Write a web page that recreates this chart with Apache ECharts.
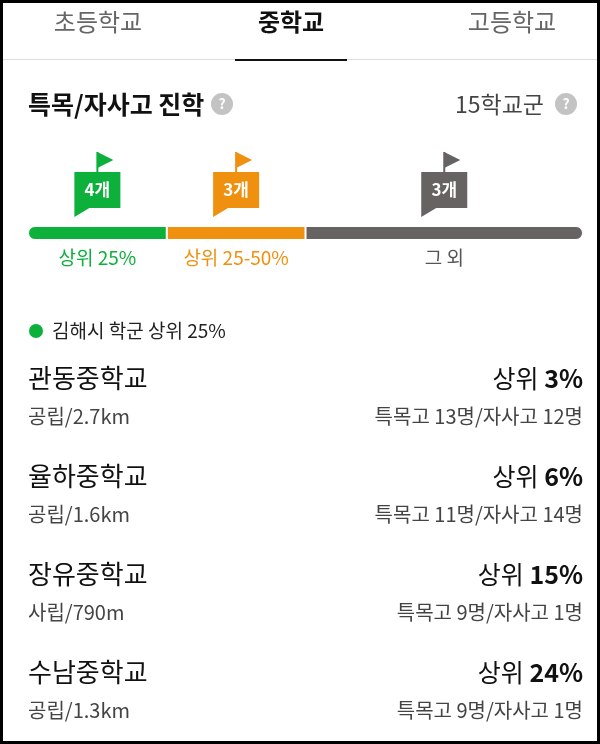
<!DOCTYPE html>
<html><head><meta charset="utf-8">
<script src="https://cdn.jsdelivr.net/npm/echarts@6/dist/echarts.min.js"></script>
<style>html,body{margin:0;padding:0;background:#fff}#c{width:600px;height:744px}</style>
</head><body><div id="c"></div>
<script>
var tabs = ['초등학교', '중학교', '고등학교'];
var segNames = ['상위 25%', '상위 25-50%', '그 외'];
var segValues = [25, 25, 50];
var segCounts = ['4개', '3개', '3개'];
var segColors = ['#0cb03a', '#f0900f', '#676363'];
var schools = ['관동중학교', '율하중학교', '장유중학교', '수남중학교'];
var schoolInfo = ['공립/2.7km', '공립/1.6km', '사립/790m', '공립/1.3km'];
var schoolRank = ['3%', '6%', '15%', '24%'];
var schoolStats = ['특목고 13명/자사고 12명', '특목고 11명/자사고 14명', '특목고 9명/자사고 1명', '특목고 9명/자사고 1명'];

var F = '"Noto Sans CJK KR", "Noto Sans", sans-serif';
var chart = echarts.init(document.getElementById('c'));

// flag centers at the middle of each segment
var mids = [], acc = 0;
segValues.forEach(function (v) { mids.push(acc + v / 2); acc += v; });

var bars = segValues.map(function (v, i) {
  var r = i === 0 ? [7, 0, 0, 7] : (i === segValues.length - 1 ? [0, 7, 7, 0] : 0);
  return {
    type: 'bar', stack: 's', barWidth: 14, data: [v], silent: true,
    itemStyle: { color: segColors[i], borderRadius: r, borderColor: '#fff', borderWidth: 1 },
    label: {
      show: true, position: 'bottom', distance: 8, formatter: segNames[i],
      color: i === 2 ? '#555' : segColors[i], fontSize: 19, fontFamily: F
    }
  };
});

var flags = {
  type: 'custom', coordinateSystem: 'cartesian2d', silent: true, z: 5,
  data: mids.map(function (m, i) { return [m, 0, i]; }),
  renderItem: function (params, api) {
    var p = api.coord([api.value(0), 0]);
    var i = api.value(2), col = segColors[i];
    var cx = p[0], by = p[1] - 25;
    return {
      type: 'group', children: [
        { type: 'line', shape: { x1: cx, y1: by - 56, x2: cx, y2: by - 36 }, style: { stroke: col, lineWidth: 2 } },
        { type: 'polygon', shape: { points: [[cx, by - 56], [cx + 16, by - 48], [cx, by - 40]] }, style: { fill: col } },
        { type: 'polygon', shape: { points: [[cx - 23, by - 36], [cx + 23, by - 36], [cx + 23, by], [cx - 8, by], [cx - 23, by + 9]] }, style: { fill: col } },
        { type: 'text', style: { text: segCounts[i], x: cx, y: by - 18, align: 'center', verticalAlign: 'middle', fill: '#fff', font: 'bold 17px ' + F } }
      ]
    };
  }
};

var g = [];
g.push({ type: 'rect', shape: { x: 1.5, y: 1.5, width: 597, height: 741 }, style: { fill: 'none', stroke: '#000', lineWidth: 3 }, z: 10 });
var tabX = [98, 291, 512];
tabs.forEach(function (t, i) {
  g.push({ type: 'text', style: { text: t, x: tabX[i], y: 22, align: 'center', verticalAlign: 'middle', fill: i === 1 ? '#111' : '#666', font: (i === 1 ? 'bold ' : '') + '24px ' + F } });
});
g.push({ type: 'rect', shape: { x: 0, y: 59, width: 600, height: 1 }, style: { fill: '#ddd' } });
g.push({ type: 'rect', shape: { x: 235, y: 59, width: 112, height: 2 }, style: { fill: '#111' } });
g.push({ type: 'text', style: { text: '특목/자사고 진학', x: 28, y: 104, verticalAlign: 'middle', fill: '#111', font: 'bold 25px ' + F } });
g.push({ type: 'circle', shape: { cx: 222, cy: 104, r: 11 }, style: { fill: '#c3c3c3' } });
g.push({ type: 'text', style: { text: '?', x: 222, y: 104, align: 'center', verticalAlign: 'middle', fill: '#fff', font: 'bold 14px ' + F } });
g.push({ type: 'text', style: { text: '15학교군', x: 544, y: 104, align: 'right', verticalAlign: 'middle', fill: '#444', font: '23px ' + F } });
g.push({ type: 'circle', shape: { cx: 566, cy: 104, r: 11 }, style: { fill: '#c3c3c3' } });
g.push({ type: 'text', style: { text: '?', x: 566, y: 104, align: 'center', verticalAlign: 'middle', fill: '#fff', font: 'bold 14px ' + F } });
g.push({ type: 'circle', shape: { cx: 36, cy: 331, r: 7 }, style: { fill: segColors[0] } });
g.push({ type: 'text', style: { text: '김해시 학군 상위 25%', x: 52, y: 331, verticalAlign: 'middle', fill: '#222', font: '19px ' + F } });
schools.forEach(function (s, i) {
  var y = 378 + i * 98;
  g.push({ type: 'text', style: { text: s, x: 28, y: y, verticalAlign: 'middle', fill: '#111', font: '26px ' + F } });
  g.push({ type: 'text', style: { text: schoolInfo[i], x: 28, y: y + 38, verticalAlign: 'middle', fill: '#444', font: '20px ' + F } });
  g.push({ type: 'text', style: {
    text: '{a|상위 }{b|' + schoolRank[i] + '}', x: 583, y: y, align: 'right', verticalAlign: 'middle',
    rich: { a: { fontSize: 25, fontFamily: F, fill: '#111' }, b: { fontSize: 25, fontWeight: 'bold', fontFamily: F, fill: '#111' } }
  } });
  g.push({ type: 'text', style: { text: schoolStats[i], x: 583, y: y + 38, align: 'right', verticalAlign: 'middle', fill: '#444', font: '20px ' + F } });
});

chart.setOption({
  animation: false,
  grid: { left: 28, right: 17, top: 226, height: 14 },
  xAxis: { type: 'value', min: 0, max: 100, show: false },
  yAxis: { type: 'category', data: [''], show: false },
  series: bars.concat([flags]),
  graphic: g
});
</script></body></html>
